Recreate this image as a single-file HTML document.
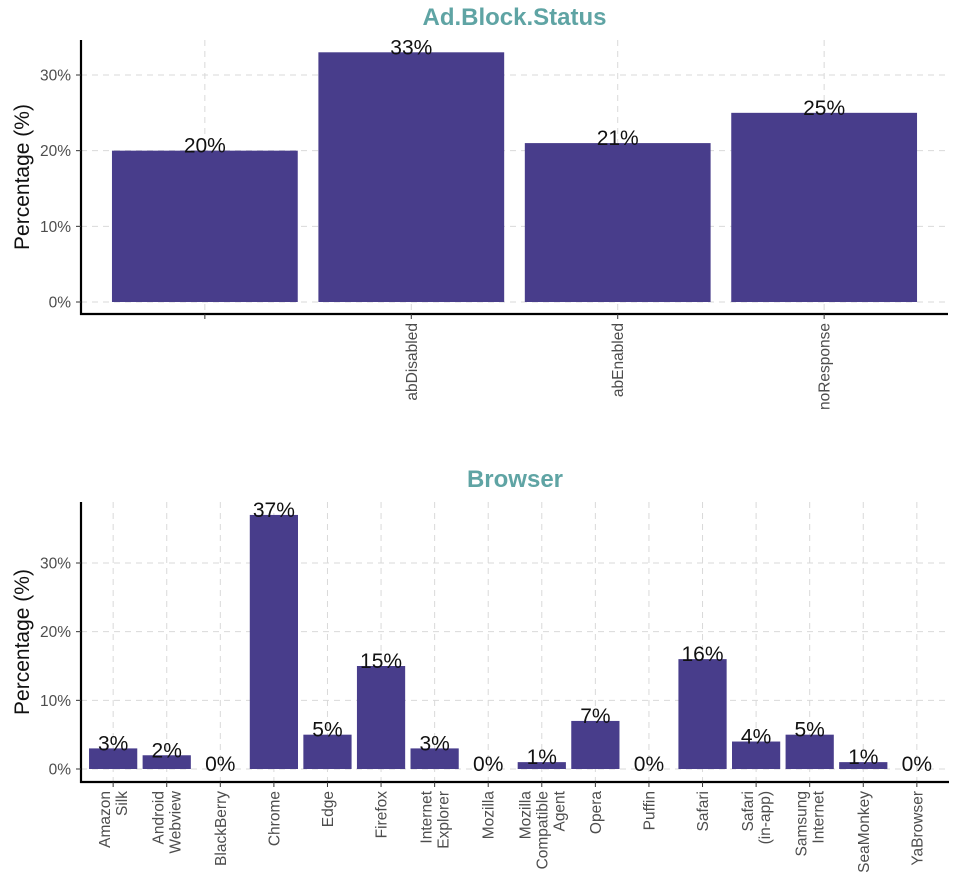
<!DOCTYPE html>
<html><head><meta charset="utf-8"><style>
html,body{margin:0;padding:0;background:#fff;}
svg{display:block;font-family:"Liberation Sans",sans-serif;}
</style></head><body>
<svg id="c" width="954" height="893" viewBox="0 0 954 893" xmlns="http://www.w3.org/2000/svg"></svg>
<script>
const adCategories = ["", "abDisabled", "abEnabled", "noResponse"];
const adValues = [20, 33, 21, 25];
const adLabels = ["20%", "33%", "21%", "25%"];
const brCategories = ["Amazon\nSilk","Android\nWebview","BlackBerry","Chrome","Edge","Firefox","Internet\nExplorer","Mozilla","Mozilla\nCompatible\nAgent","Opera","Puffin","Safari","Safari\n(in-app)","Samsung\nInternet","SeaMonkey","YaBrowser"];
const brValues = [3, 2, 0, 37, 5, 15, 3, 0, 1, 7, 0, 16, 4, 5, 1, 0];
const brLabels = ["3%","2%","0%","37%","5%","15%","3%","0%","1%","7%","0%","16%","4%","5%","1%","0%"];
const yTicks = [0, 10, 20, 30];
const yTickLabels = ["0%","10%","20%","30%"];

const NS = "http://www.w3.org/2000/svg";
const svg = document.getElementById('c');
function mk(tag, attrs, parent, text){
  const e = document.createElementNS(NS, tag);
  for (const k in attrs) e.setAttribute(k, attrs[k]);
  if (text !== undefined) e.textContent = text;
  (parent||svg).appendChild(e);
  return e;
}
const defs = mk('defs', {});

function drawPanel(cfg){
  const g = mk('g', {});
  
  
  const cp = mk('clipPath', {id:cfg.name+'-clip'}, defs);
  mk('rect', {x:cfg.left, y:cfg.top, width:cfg.right-cfg.left, height:cfg.axisY-cfg.top}, cp);
  const n = cfg.cats.length;
  const step = (cfg.right - cfg.left) / (n - 1 + 1.2);
  const xc = i => cfg.left + step * (0.6 + i);
  const y = v => cfg.y0 - v * cfg.pxPer;
  const pg = mk('g', {'clip-path':`url(#${cfg.name}-clip)`}, g);
  
  
  yTicks.forEach(t => {
    const l = mk('line', {x1:cfg.left, x2:cfg.right, y1:y(t), y2:y(t), stroke:'#d9d9d9', 'stroke-dasharray':'6,5', 'stroke-width':1}, pg);
    
    
  });
  cfg.cats.forEach((c,i) => {
    const l = mk('line', {x1:xc(i), x2:xc(i), y1:cfg.top, y2:cfg.axisY, stroke:'#d9d9d9', 'stroke-dasharray':'6,5', 'stroke-width':1}, pg);
    
    
  });
  const bw = step * 0.9;
  cfg.vals.forEach((v,i) => {
    const r = mk('rect', {x:xc(i)-bw/2, y:y(v), width:bw, height:Math.max(0, y(0)-y(v)), fill:'#483D8B'}, pg);
    
    
    const t = mk('text', {x:xc(i), y:y(v)+2, 'text-anchor':'middle', 'font-size':21, fill:'#111'}, pg, cfg.labels[i]);
    
    
  });
  const ax = mk('line', {x1:cfg.left, x2:cfg.left, y1:cfg.top, y2:cfg.axisY+1, stroke:'#000', 'stroke-width':2.2}, g);
  
  
  const bx = mk('line', {x1:cfg.left-1, x2:cfg.right, y1:cfg.axisY, y2:cfg.axisY, stroke:'#000', 'stroke-width':2.2}, g);
  
  
  yTicks.forEach((t,i) => {
    mk('line', {x1:cfg.left-5, x2:cfg.left, y1:y(t), y2:y(t), stroke:'#333', 'stroke-width':1}, g);
    const tl = mk('text', {x:cfg.left-10, y:y(t)+5.5, 'text-anchor':'end', 'font-size':15.5, fill:'#4d4d4d'}, g, yTickLabels[i]);
    
    
  });
  cfg.cats.forEach((c,i) => {
    mk('line', {x1:xc(i), x2:xc(i), y1:cfg.axisY, y2:cfg.axisY+5, stroke:'#333', 'stroke-width':1}, g);
    const lines = c.split('\n');
    const ty = cfg.axisY + 9;
    lines.forEach((ln, j) => {
      const off = (j - (lines.length-1)/2) * 17;
      const x = xc(i) + off + 5.5;
      const t = mk('text', {x:x, y:ty, 'text-anchor':'end', 'font-size':15.5, fill:'#4d4d4d', transform:`rotate(-90 ${x} ${ty})`}, g, ln);
      
      
    });
  });
  const tt = mk('text', {x:(cfg.left+cfg.right)/2, y:cfg.titleY, 'text-anchor':'middle', 'font-size':24, 'font-weight':'bold', fill:'#5fa4a4'}, g, cfg.title);
  
  
  const ymid = (cfg.top + cfg.axisY)/2;
  const yt = mk('text', {x:29, y:ymid, 'text-anchor':'middle', 'font-size':21, fill:'#111', transform:`rotate(-90 29 ${ymid})`}, g, 'Percentage (%)');
  
  
}

drawPanel({name:'ad-block-status-panel', cats:adCategories, vals:adValues, labels:adLabels,
  left:81, right:948, top:40, axisY:314, y0:302, pxPer:(302-75)/30, title:'Ad.Block.Status', titleY:25});
drawPanel({name:'browser-panel', cats:brCategories, vals:brValues, labels:brLabels,
  left:81, right:949, top:502, axisY:782, y0:769, pxPer:(769-563)/30, title:'Browser', titleY:487});
</script>
</body></html>
